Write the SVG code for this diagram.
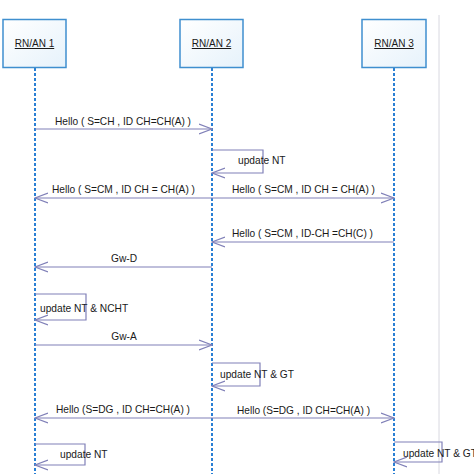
<svg xmlns="http://www.w3.org/2000/svg" width="474" height="474" viewBox="0 0 474 474">
<style>
text{font-family:"Liberation Sans",Arial,sans-serif;font-size:10.2px;fill:#1a1a1a}
.box{fill:url(#bg);stroke:#3f8fcf;stroke-width:1.5}
.life{stroke:#2a7fd4;stroke-width:2;stroke-dasharray:3,2;fill:none}
.msg{stroke:#8080b8;stroke-width:1.2;fill:none}
.lbl{text-decoration:underline;font-size:10px;text-anchor:middle}
</style>
<defs>
<linearGradient id="bg" x1="0" y1="0" x2="1" y2="1">
<stop offset="0" stop-color="#ffffff"/>
<stop offset="1" stop-color="#e6f2fb"/>
</linearGradient>
<marker id="ah" viewBox="0 0 14 12" refX="13" refY="6" markerWidth="14" markerHeight="12" markerUnits="userSpaceOnUse" orient="auto">
<path d="M0,1 L13,6 L0,11" fill="none" stroke="#8080b8" stroke-width="1.2"/>
</marker>
</defs>
<rect width="474" height="474" fill="#fff"/>
<line x1="439" y1="15" x2="439" y2="474" stroke="#d8d8e0" stroke-width="1"/>
<g id="lifelines">
<line class="life" x1="35" y1="68" x2="35" y2="474"/>
<line class="life" x1="212" y1="68" x2="212" y2="474"/>
<line class="life" x1="394" y1="68" x2="394" y2="474"/>
</g>
<g id="n1"><rect class="box" x="3" y="19.5" width="63" height="48"/><text class="lbl" x="34.5" y="47">RN/AN 1</text></g>
<g id="n2"><rect class="box" x="180" y="19.5" width="63" height="48"/><text class="lbl" x="211.5" y="47">RN/AN 2</text></g>
<g id="n3"><rect class="box" x="362" y="19.5" width="64" height="48"/><text class="lbl" x="394" y="47">RN/AN 3</text></g>
<g id="connectors">
<line class="msg" x1="35" y1="129" x2="212" y2="129" marker-end="url(#ah)"/>
<polyline class="msg" points="212,150 263,150 263,173 212,173" marker-end="url(#ah)"/>
<line class="msg" x1="212" y1="198" x2="35" y2="198" marker-end="url(#ah)"/>
<line class="msg" x1="212" y1="198" x2="394" y2="198" marker-end="url(#ah)"/>
<line class="msg" x1="394" y1="242" x2="212" y2="242" marker-end="url(#ah)"/>
<line class="msg" x1="212" y1="267" x2="35" y2="267" marker-end="url(#ah)"/>
<polyline class="msg" points="35,294 86,294 86,320 35,320" marker-end="url(#ah)"/>
<line class="msg" x1="35" y1="345" x2="212" y2="345" marker-end="url(#ah)"/>
<polyline class="msg" points="212,363 260,363 260,386 212,386" marker-end="url(#ah)"/>
<line class="msg" x1="212" y1="418" x2="35" y2="418" marker-end="url(#ah)"/>
<line class="msg" x1="212" y1="418" x2="394" y2="418" marker-end="url(#ah)"/>
<polyline class="msg" points="35,444 85,444 85,465 35,465" marker-end="url(#ah)"/>
<polyline class="msg" points="394,442 442,442 442,462 394,462" marker-end="url(#ah)"/>
</g>
<g id="labels">
<text x="55" y="125" textLength="136" lengthAdjust="spacingAndGlyphs">Hello ( S=CH , ID CH=CH(A) )</text>
<text x="238" y="164">update NT</text>
<text x="52" y="193" textLength="143" lengthAdjust="spacingAndGlyphs">Hello ( S=CM , ID CH = CH(A) )</text>
<text x="232" y="193" textLength="143" lengthAdjust="spacingAndGlyphs">Hello ( S=CM , ID CH = CH(A) )</text>
<text x="232" y="237" textLength="141" lengthAdjust="spacingAndGlyphs">Hello ( S=CM , ID-CH =CH(C) )</text>
<text x="124" y="262" text-anchor="middle">Gw-D</text>
<text x="40" y="312">update NT &amp; NCHT</text>
<text x="124" y="340" text-anchor="middle">Gw-A</text>
<text x="220" y="378">update NT &amp; GT</text>
<text x="56" y="413" textLength="134" lengthAdjust="spacingAndGlyphs">Hello (S=DG , ID CH=CH(A) )</text>
<text x="237" y="414" textLength="133" lengthAdjust="spacingAndGlyphs">Hello (S=DG , ID CH=CH(A) )</text>
<text x="60" y="458">update NT</text>
<text x="403" y="457">update NT &amp; GT</text>
</g>
</svg>
